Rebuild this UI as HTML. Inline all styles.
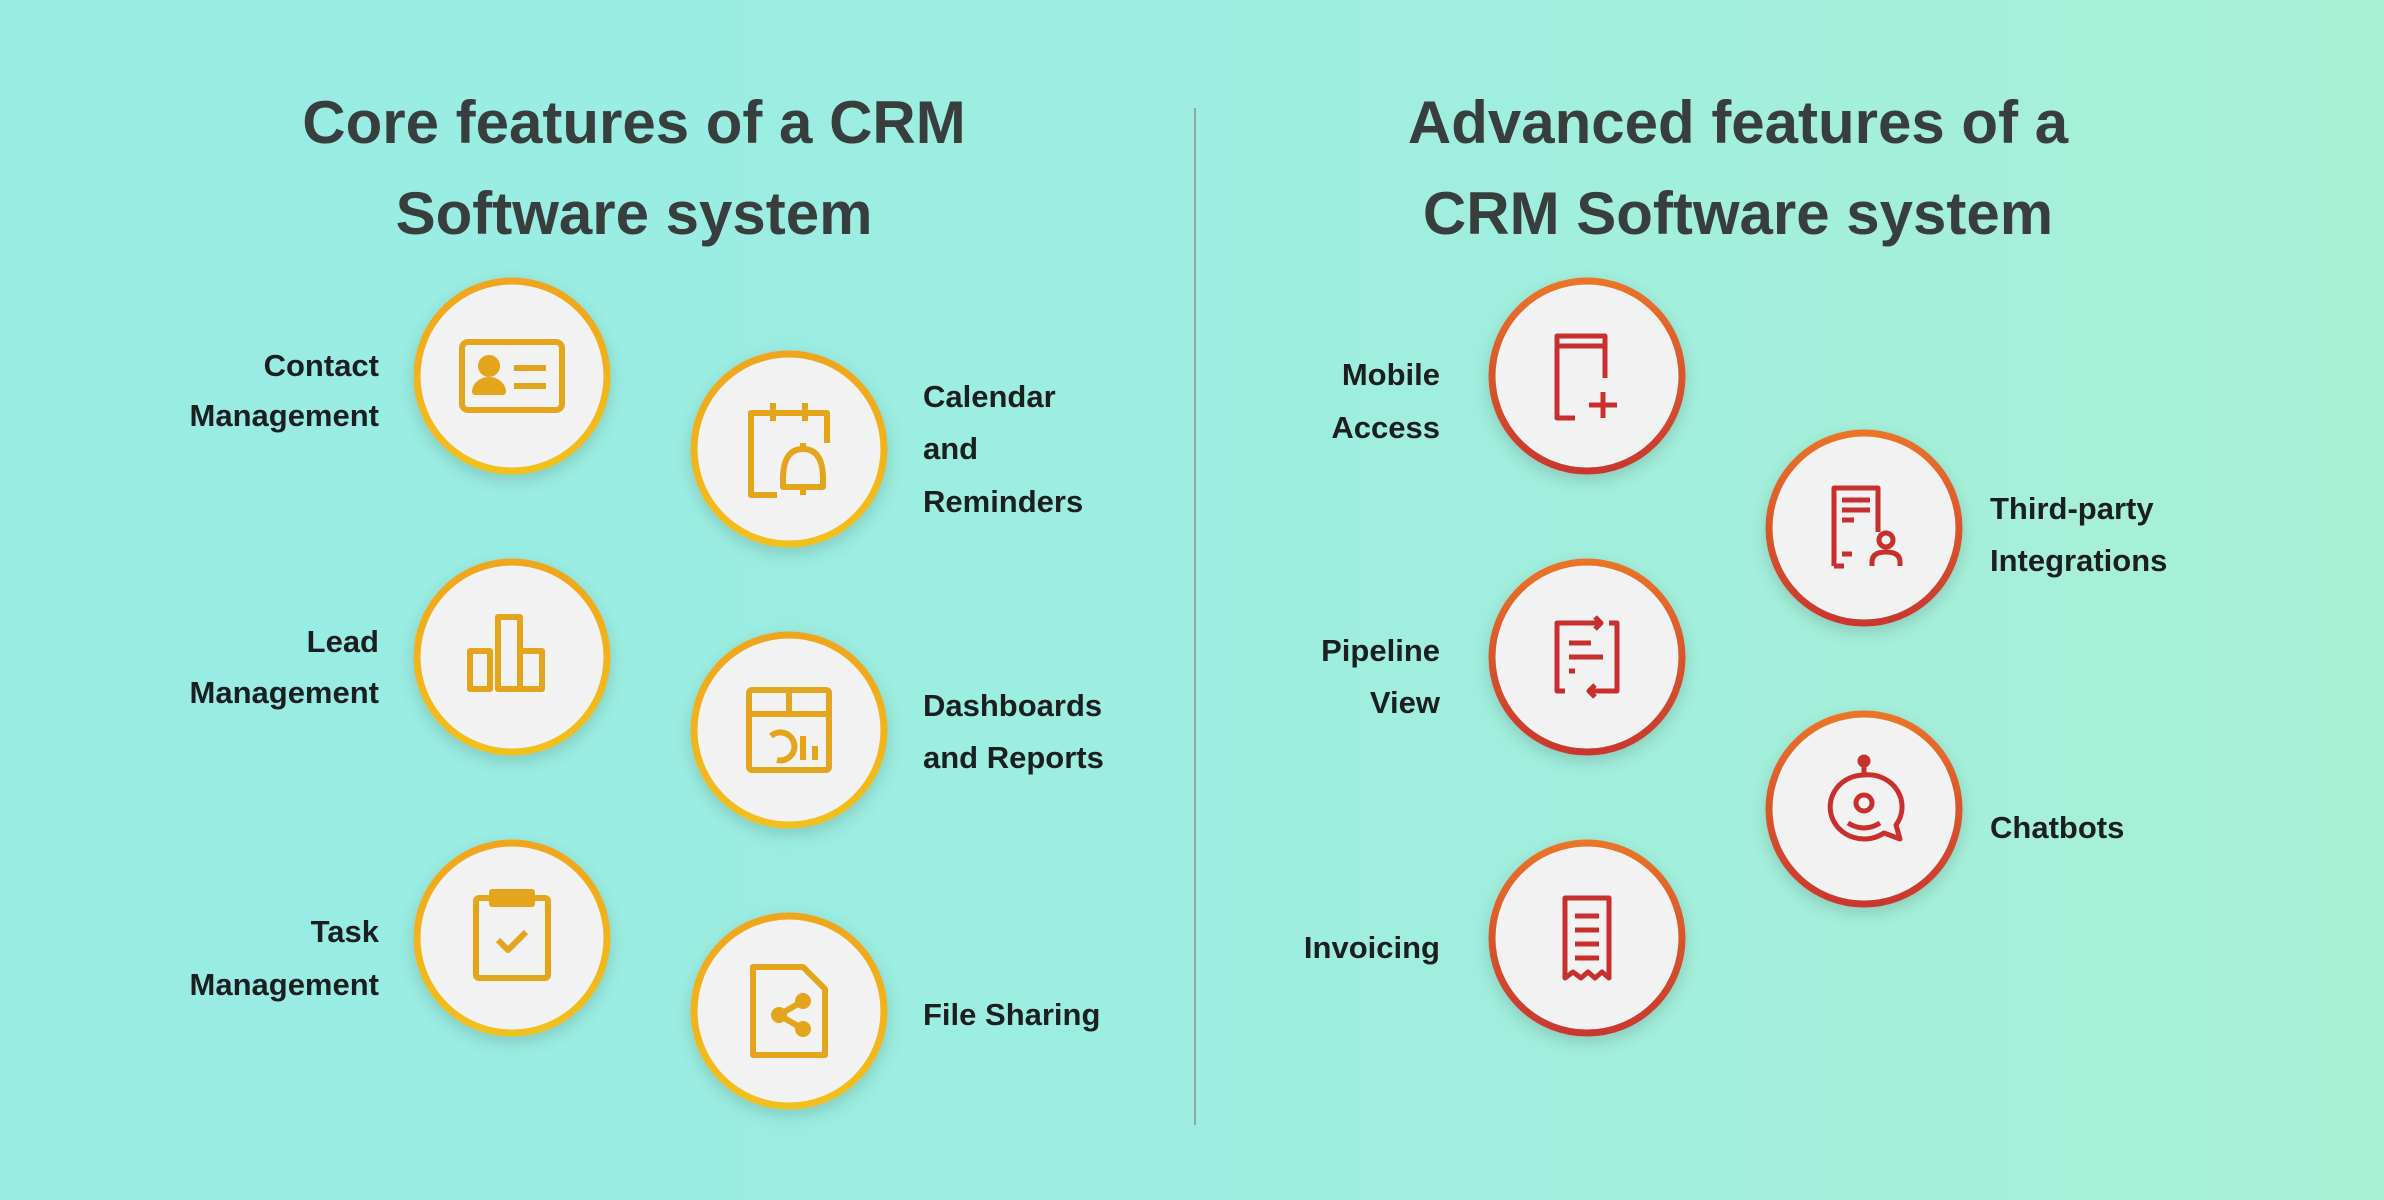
<!DOCTYPE html>
<html><head><meta charset="utf-8"><style>
html,body{margin:0;padding:0}
body{width:2384px;height:1200px;overflow:hidden;background:linear-gradient(90deg,#97ece4 0%,#9deee0 50%,#a9f0d6 100%);}
svg{display:block}
text{font-family:"Liberation Sans",sans-serif}
.t{font-size:60px;font-weight:bold;fill:#383d3d;text-anchor:middle}
.l{font-size:31px;font-weight:bold;fill:#1c1f1f}
.r{text-anchor:end}
</style></head><body>
<svg width="2384" height="1200" viewBox="0 0 2384 1200">
<defs>
<linearGradient id="gy" x1="0" y1="0" x2="0" y2="1"><stop offset="0" stop-color="#f0a51e"/><stop offset="1" stop-color="#f2c01c"/></linearGradient>
<linearGradient id="gr" x1="0" y1="0" x2="0" y2="1"><stop offset="0" stop-color="#ea7428"/><stop offset="1" stop-color="#c9372f"/></linearGradient>
<filter id="sh" x="-30%" y="-30%" width="160%" height="160%"><feDropShadow dx="0" dy="6" stdDeviation="8" flood-color="#000" flood-opacity="0.15"/></filter>
<g id="cy"><circle r="95" fill="#f2f2f2" stroke="url(#gy)" stroke-width="7" filter="url(#sh)"/></g>
<g id="cr"><circle r="95" fill="#f2f2f2" stroke="url(#gr)" stroke-width="7" filter="url(#sh)"/></g>
</defs>
<text class="t" x="634" y="143">Core features of a CRM</text>
<text class="t" x="634" y="234">Software system</text>
<text class="t" x="1738" y="143">Advanced features of a</text>
<text class="t" x="1738" y="234">CRM Software system</text>
<line x1="1195" y1="108" x2="1195" y2="1125" stroke="#8fa8a6" stroke-width="2"/>

<use href="#cy" x="512" y="376"/><use href="#cy" x="512" y="657"/><use href="#cy" x="512" y="938"/>
<use href="#cy" x="789" y="449"/><use href="#cy" x="789" y="730"/><use href="#cy" x="789" y="1011"/>
<use href="#cr" x="1587" y="376"/><use href="#cr" x="1587" y="657"/><use href="#cr" x="1587" y="938"/>
<use href="#cr" x="1864" y="528"/><use href="#cr" x="1864" y="809"/>

<g fill="none" stroke="#e4a41b" stroke-width="6" stroke-linejoin="round">
<g transform="translate(512,376)">
<rect x="-50" y="-34" width="100" height="68" rx="6"/>
<circle cx="-23" cy="-10" r="8" fill="#e4a41b"/>
<path d="M-37 16 a14 12 0 0 1 28 0 z" fill="#e4a41b"/>
<line x1="2" y1="-8" x2="34" y2="-8"/><line x1="2" y1="10" x2="34" y2="10"/>
</g>
<g transform="translate(512,657)">
<rect x="-42" y="-6" width="20" height="38"/><rect x="-14" y="-40" width="22" height="72"/><rect x="8" y="-6" width="22" height="38"/>
</g>
<g transform="translate(512,938)">
<rect x="-36" y="-40" width="72" height="80" rx="3"/>
<rect x="-20" y="-46" width="40" height="12" fill="#e4a41b"/>
<path d="M-14 2 l10 10 l18 -18"/>
</g>
<g transform="translate(789,449)">
<path d="M-12 46 h-26 v-82 h76 v30"/>
<line x1="-16" y1="-46" x2="-16" y2="-28"/><line x1="16" y1="-46" x2="16" y2="-28"/>
<path d="M-6 38 v-8 q0 -30 20 -30 q20 0 20 30 v8 z"/>
<line x1="14" y1="-6" x2="14" y2="0"/><line x1="14" y1="38" x2="14" y2="46"/>
</g>
<g transform="translate(789,730)">
<rect x="-40" y="-40" width="80" height="80" rx="3"/>
<line x1="-40" y1="-16" x2="40" y2="-16"/><line x1="0" y1="-40" x2="0" y2="-16"/>
<path d="M-18 6 a14 14 0 1 1 6 24"/>
<line x1="14" y1="6" x2="14" y2="30"/><line x1="26" y1="16" x2="26" y2="30"/>
</g>
<g transform="translate(789,1011)">
<path d="M-36 -44 h50 l22 22 v66 h-72 z"/>
<circle cx="-10" cy="4" r="5" fill="#e4a41b"/><circle cx="14" cy="-10" r="5" fill="#e4a41b"/><circle cx="14" cy="18" r="5" fill="#e4a41b"/>
<path d="M14 -10 L-10 4 L14 18"/>
</g>
</g>

<g fill="none" stroke="#c8302e" stroke-width="5" stroke-linejoin="round">
<g transform="translate(1587,376)">
<path d="M-12 42 h-18 v-82 h48 v42"/><line x1="-30" y1="-30" x2="18" y2="-30"/>
<line x1="16" y1="16" x2="16" y2="42"/><line x1="2" y1="29" x2="30" y2="29"/>
</g>
<g transform="translate(1587,657)">
<path d="M-6 -34 h-24 v68 h8"/><path d="M8 34 h22 v-68 h-8"/>
<path d="M-6 -34 h20 m-6 -6 l6 6 l-6 6"/><path d="M22 34 h-20 m6 -6 l-6 6 l6 6"/>
<line x1="-18" y1="-14" x2="4" y2="-14"/><line x1="-18" y1="0" x2="16" y2="0"/><line x1="-18" y1="14" x2="-12" y2="14"/>
</g>
<g transform="translate(1587,938)">
<path d="M-22 -40 h44 v80 l-7 -6 l-7 6 l-7 -6 l-7 6 l-8 -6 l-8 6 z"/>
<line x1="-12" y1="-22" x2="12" y2="-22"/><line x1="-12" y1="-8" x2="12" y2="-8"/><line x1="-12" y1="6" x2="12" y2="6"/><line x1="-12" y1="20" x2="12" y2="20"/>
</g>
<g transform="translate(1864,528)">
<path d="M-30 38 v-78 h44 v44"/>
<line x1="-22" y1="-28" x2="6" y2="-28"/><line x1="-22" y1="-18" x2="6" y2="-18"/><line x1="-22" y1="-8" x2="-10" y2="-8"/>
<path d="M-30 38 h10"/><line x1="-22" y1="26" x2="-12" y2="26"/>
<circle cx="22" cy="12" r="7"/><path d="M8 38 v-4 q0 -10 14 -10 q14 0 14 10 v4"/>
</g>
<g transform="translate(1864,809)">
<path d="M0 -34 a34 32 0 1 0 20 58 l16 6 l-4 -14 a34 32 0 0 0 -32 -50 z"/>
<line x1="0" y1="-44" x2="0" y2="-34"/><circle cx="0" cy="-48" r="4" fill="#c8302e"/>
<circle cx="0" cy="-6" r="8"/><path d="M-16 14 q16 10 32 0"/>
</g>
</g>

<text class="l r" x="379" y="376">Contact</text><text class="l r" x="379" y="426">Management</text>
<text class="l r" x="379" y="652">Lead</text><text class="l r" x="379" y="703">Management</text>
<text class="l r" x="379" y="942">Task</text><text class="l r" x="379" y="995">Management</text>
<text class="l" x="923" y="407">Calendar</text><text class="l" x="923" y="459">and</text><text class="l" x="923" y="512">Reminders</text>
<text class="l" x="923" y="716">Dashboards</text><text class="l" x="923" y="768">and Reports</text>
<text class="l" x="923" y="1025">File Sharing</text>
<text class="l r" x="1440" y="385">Mobile</text><text class="l r" x="1440" y="438">Access</text>
<text class="l r" x="1440" y="661">Pipeline</text><text class="l r" x="1440" y="713">View</text>
<text class="l r" x="1440" y="958">Invoicing</text>
<text class="l" x="1990" y="519">Third-party</text><text class="l" x="1990" y="571">Integrations</text>
<text class="l" x="1990" y="838">Chatbots</text>
</svg>
</body></html>
